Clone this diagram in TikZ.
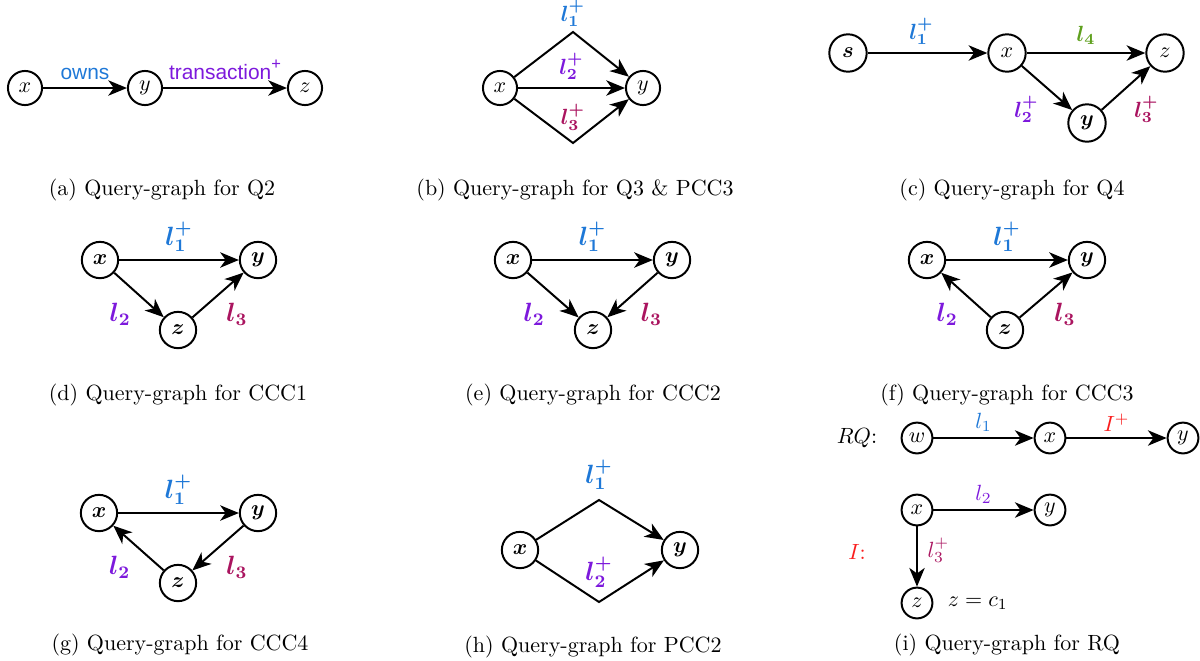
\documentclass[tikz,border=0pt]{standalone}
\usepackage{amssymb}
\usepackage{mathtools}
\usepackage{fontspec}
\newfontfamily\edgefont{Liberation Sans}
\usepackage{tikz}
\usetikzlibrary{arrows.meta, positioning}
\definecolor{lblue}{RGB}{30,120,215}
\definecolor{lviolet}{RGB}{125,25,220}
\definecolor{lmagenta}{RGB}{170,20,95}
\definecolor{lgreen}{RGB}{95,160,30}
\definecolor{lred}{RGB}{250,30,30}

\begin{document}
\begin{tikzpicture}[x=0.4545pt, y=-0.4545pt,
    vert/.style={circle, draw, line width=0.9pt, inner sep=0pt, minimum size=16.5pt},
    svert/.style={vert, minimum size=15.5pt},
    tvert/.style={vert, minimum size=14pt},
    bvert/.style={vert, font=\boldmath},
    edge/.style={line width=0.9pt, -{Stealth[length=8.5pt, width=7pt, inset=2.5pt]}},
    lab/.style={font=\boldmath},
    blab/.style={font=\large\boldmath},
    slab/.style={font=\edgefont\fontsize{9.5}{10}\selectfont}]
    \useasboundingbox (0,0) rectangle (1200,660);

    \node[svert] (a-x) at (25,88) {$x$};
    \node[svert] (a-y) at (145,88) {$y$};
    \node[svert] (a-z) at (305,88) {$z$};
    \draw[edge] (a-x) -- node[above, slab, lblue]{owns} (a-y);
    \draw[edge] (a-y) -- node[above, slab, lviolet]{transaction\raisebox{0.9ex}{\fontsize{7.5}{8}\selectfont +}} (a-z);
    \node (cap-a) at (162,190) {(a) Query-graph for Q2};

    \node[svert] (b-x) at (500,88) {$x$};
    \node[svert] (b-y) at (643,88) {$y$};
    \coordinate (b-top) at (573,32);
    \coordinate (b-bot) at (573,143);
    \draw[edge] (b-x) -- (b-top) node[above=-1.5pt, lab, lblue]{$l_1^+$} -- (b-y);
    \draw[edge] (b-x) -- node[above, lab, lviolet]{$l_2^+$} (b-y);
    \draw[edge] (b-x) -- (b-bot) node[above=2pt, lab, lmagenta]{$l_3^+$} -- (b-y);
    \node (cap-b) at (575,190) {(b) Query-graph for Q3 \& PCC3};

    \node[bvert, minimum size=17pt] (c-s) at (848,53) {$s$};
    \node[vert, minimum size=17pt] (c-x) at (1007,53) {$x$};
    \node[vert, minimum size=17pt] (c-z) at (1165,53) {$z$};
    \node[bvert, minimum size=17pt] (c-y) at (1087,123) {$y$};
    \draw[edge] (c-s) -- node[above, pos=0.45, lab, lblue]{$l_1^+$} (c-x);
    \draw[edge] (c-x) -- node[above, lab, lgreen]{$l_4$} (c-z);
    \draw[edge] (c-x) -- node[below left, lab, lviolet]{$l_2^+$} (c-y);
    \draw[edge] (c-y) -- node[below right, lab, lmagenta]{$l_3^+$} (c-z);
    \node (cap-c) at (1012,190) {(c) Query-graph for Q4};

    \node[bvert] (d-x) at (100,260) {$x$};
    \node[bvert] (d-y) at (258,260) {$y$};
    \node[bvert] (d-z) at (178,330) {$z$};
    \draw[edge] (d-x) -- node[above, blab, lblue]{$l_1^+$} (d-y);
    \draw[edge] (d-x) -- node[below left, blab, lviolet]{$l_2$} (d-z);
    \draw[edge] (d-z) -- node[below right, blab, lmagenta]{$l_3$} (d-y);
    \node (cap-d) at (178,395) {(d) Query-graph for CCC1};

    \node[bvert] (e-x) at (513,260) {$x$};
    \node[bvert] (e-y) at (672,260) {$y$};
    \node[bvert] (e-z) at (593,330) {$z$};
    \draw[edge] (e-x) -- node[above, blab, lblue]{$l_1^+$} (e-y);
    \draw[edge] (e-x) -- node[below left, blab, lviolet]{$l_2$} (e-z);
    \draw[edge] (e-y) -- node[below right, blab, lmagenta]{$l_3$} (e-z);
    \node (cap-e) at (593,395) {(e) Query-graph for CCC2};

    \node[bvert] (f-x) at (927,260) {$x$};
    \node[bvert] (f-y) at (1087,260) {$y$};
    \node[bvert] (f-z) at (1005,330) {$z$};
    \draw[edge] (f-x) -- node[above, blab, lblue]{$l_1^+$} (f-y);
    \draw[edge] (f-z) -- node[below left, blab, lviolet]{$l_2$} (f-x);
    \draw[edge] (f-z) -- node[below right, blab, lmagenta]{$l_3$} (f-y);
    \node (cap-f) at (1007,395) {(f) Query-graph for CCC3};

    \node[bvert] (g-x) at (99,513) {$x$};
    \node[bvert] (g-y) at (258,513) {$y$};
    \node[bvert] (g-z) at (178,583) {$z$};
    \draw[edge] (g-x) -- node[above, blab, lblue]{$l_1^+$} (g-y);
    \draw[edge] (g-z) -- node[below left, blab, lviolet]{$l_2$} (g-x);
    \draw[edge] (g-y) -- node[below right, blab, lmagenta]{$l_3$} (g-z);
    \node (cap-g) at (180,645) {(g) Query-graph for CCC4};

    \node[bvert] (h-x) at (520,550) {$x$};
    \node[bvert] (h-y) at (680,550) {$y$};
    \coordinate (h-top) at (599,500);
    \coordinate (h-bot) at (599,602);
    \draw[edge] (h-x) -- (h-top) node[above=1pt, blab, lblue]{$l_1^+$} -- (h-y);
    \draw[edge] (h-x) -- (h-bot) node[above=3pt, blab, lviolet]{$l_2^+$} -- (h-y);
    \node (cap-h) at (593,647) {(h) Query-graph for PCC2};

    \node (i-rq) at (857,438) {$RQ$:};
    \node[tvert] (i-w) at (917,438) {$w$};
    \node[tvert] (i-x) at (1050,438) {$x$};
    \node[tvert] (i-y) at (1183,438) {$y$};
    \draw[edge] (i-w) -- node[above=-1pt, lblue]{$l_1$} (i-x);
    \draw[edge] (i-x) -- node[above=-1pt, lred]{$I^+$} (i-y);
    \node[lred] (i-i) at (857,552) {$I$:};
    \node[tvert] (i-x2) at (917,510) {$x$};
    \node[tvert] (i-y2) at (1050,510) {$y$};
    \node[tvert] (i-z) at (917,603) {$z$};
    \node[right=3pt of i-z] (i-eq) {$z=c_1$};
    \draw[edge] (i-x2) -- node[above=-1pt, lviolet]{$l_2$} (i-y2);
    \draw[edge] (i-x2) -- node[right=1pt, pos=0.4, lmagenta]{$l_3^+$} (i-z);
    \node (cap-i) at (1007,645) {(i) Query-graph for RQ};
  \end{tikzpicture}
\end{document}
